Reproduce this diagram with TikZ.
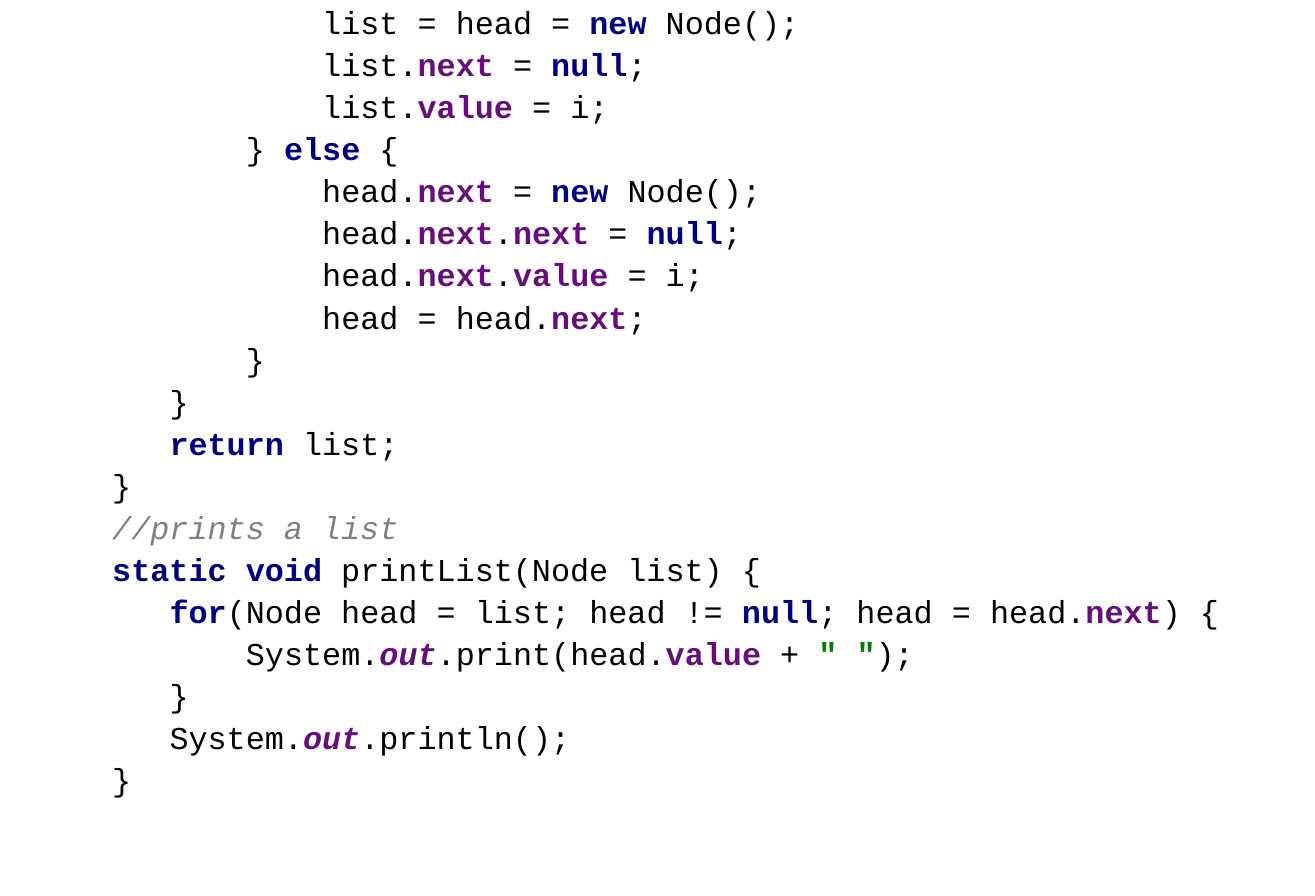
\documentclass[tikz,border=0pt]{standalone}
\usepackage{fontspec}
\newfontfamily\codefont{Liberation Mono}
\definecolor{kwc}{RGB}{0,0,128}
\definecolor{fdc}{RGB}{102,14,122}
\definecolor{cmc}{RGB}{128,128,128}
\definecolor{stc}{RGB}{0,128,0}
\newcommand\kw[1]{\textcolor{kwc}{\bfseries #1}}
\newcommand\fd[1]{\textcolor{fdc}{\bfseries #1}}
\newcommand\fdit[1]{\textcolor{fdc}{\bfseries\itshape #1}}
\newcommand\st[1]{\textcolor{stc}{\bfseries #1}}
\tikzset{codeline/.style={anchor=base west,inner sep=0pt,font=\codefont\fontsize{31.8}{42}\selectfont}}
\begin{document}
\begin{tikzpicture}[x=1pt,y=-1pt]
\useasboundingbox (0,0) rectangle (1315,896);
\def\ca{112}\def\cb{169.3}\def\cc{245.7}\def\cd{322}
\node[codeline] (l0) at (\cd,35) {list = head = \kw{new} Node();};
\node[codeline] (l1) at (\cd,77) {list.\fd{next} = \kw{null};};
\node[codeline] (l2) at (\cd,119) {list.\fd{value} = i;};
\node[codeline] (l3) at (\cc,161) {\} \kw{else} \{};
\node[codeline] (l4) at (\cd,203) {head.\fd{next} = \kw{new} Node();};
\node[codeline] (l5) at (\cd,245) {head.\fd{next}.\fd{next} = \kw{null};};
\node[codeline] (l6) at (\cd,287) {head.\fd{next}.\fd{value} = i;};
\node[codeline] (l7) at (\cd,329) {head = head.\fd{next};};
\node[codeline] (l8) at (\cc,371) {\}};
\node[codeline] (l9) at (\cb,413) {\}};
\node[codeline] (l10) at (\cb,455) {\kw{return} list;};
\node[codeline] (l11) at (\ca,497) {\}};
\node[codeline] (l12) at (\ca,539) {\textcolor{cmc}{\itshape //prints a list}};
\node[codeline] (l13) at (\ca,581) {\kw{static} \kw{void} printList(Node list) \{};
\node[codeline] (l14) at (\cb,623) {\kw{for}(Node head = list; head != \kw{null}; head = head.\fd{next}) \{};
\node[codeline] (l15) at (\cc,665) {System.\fdit{out}.print(head.\fd{value} + \st{" "});};
\node[codeline] (l16) at (\cb,707) {\}};
\node[codeline] (l17) at (\cb,749) {System.\fdit{out}.println();};
\node[codeline] (l18) at (\ca,791) {\}};
\end{tikzpicture}
\end{document}
